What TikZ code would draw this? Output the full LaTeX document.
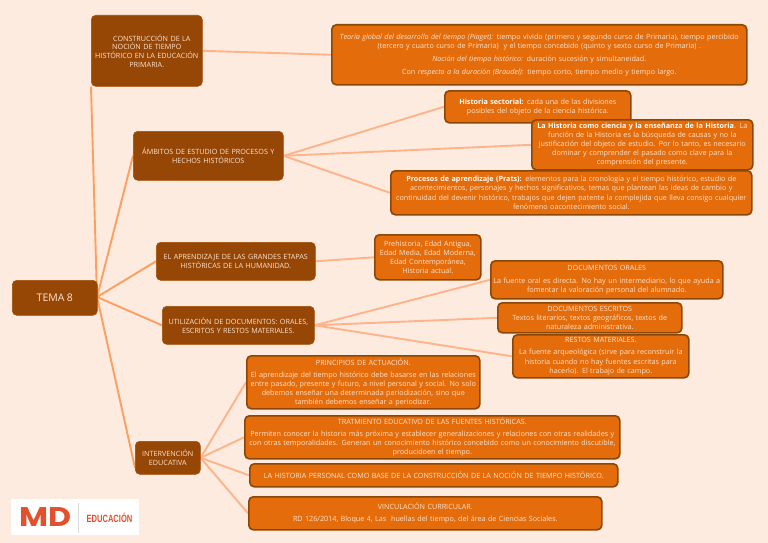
\documentclass[tikz,border=0pt]{standalone}
\usepackage{fontspec}
\setmainfont{Open Sans}
\newfontfamily\logofont{Poppins}
\newfontfamily\logotwo{Liberation Sans}
\usetikzlibrary{backgrounds}
\definecolor{bgc}{HTML}{FDEBDF}
\definecolor{darkb}{HTML}{964605}
\definecolor{orgb}{HTML}{E46C0A}
\definecolor{orgl}{HTML}{8A4708}
\definecolor{txtc}{HTML}{FDE3CF}
\definecolor{linea}{HTML}{FC9F60}
\definecolor{lineb}{HTML}{FDB48A}
\definecolor{mdred}{HTML}{E2512D}
\tikzset{
 x=1pt,y=-1pt,
 boxbase/.style={rounded corners=4.5pt,inner sep=0pt,align=center,anchor=north west,text=txtc,font=\fontsize{7.2}{9.1}\selectfont},
 mainbox/.style={boxbase,fill=darkb,draw=darkb!88!orange,line width=0.6pt},
 subbox/.style={boxbase,fill=orgb,draw=orgl,line width=1.6pt},
 rootline/.style={draw=linea,line width=1.9pt},
 subline/.style={draw=lineb,line width=1.9pt},
}
\newcommand{\bx}[7]{\node[#2,minimum width=#5 pt - #3 pt,minimum height=#6 pt - #4 pt,text width=#5 pt - #3 pt - 4pt] (#1) at (#3,#4) {#7};}
\begin{document}
\begin{tikzpicture}
\useasboundingbox (0,0) rectangle (768,543);
\bx{root}{mainbox}{12}{280}{97}{315}{\fontsize{10.5}{12}\selectfont TEMA 8}
\bx{con}{mainbox}{91}{15}{202}{86}{\hspace*{10pt}CONSTRUCCIÓN DE LA\\[-0.4pt]NOCIÓN DE TIEMPO\\[-0.4pt]HISTÓRICO EN LA EDUCACIÓN\\[-0.4pt]PRIMARIA.\\[17pt]}
\bx{teo}{subbox}{331}{24}{746}{84}{\textit{Teoría global del desarrollo del tiempo (Piaget):} tiempo vivido (primero y segundo curso de Primaria), tiempo percibido\\(tercero y cuarto curso de Primaria)\ \ y el tiempo concebido (quinto y sexto curso de Primaria) .\\[4pt]\textit{Noción del tiempo histórico:} duración sucesión y simultaneidad.\\[4pt]Con \textit{respecto a la duración (Braudel):} tiempo corto, tiempo medio y tiempo largo.}
\bx{amb}{mainbox}{133}{131}{283}{180}{ÁMBITOS DE ESTUDIO DE PROCESOS Y\\HECHOS HISTÓRICOS}
\bx{sec}{subbox}{444}{90}{630}{122}{\textcolor{white}{\textbf{Historia sectorial:}} cada una de las divisiones\\posibles del objeto de la ciencia histórica.}
\bx{pro}{subbox}{390}{170}{751}{214}{\textcolor{white}{\textbf{Procesos de aprendizaje (Prats):}} elementos para la cronología y el tiempo histórico, estudio de\\acontecimientos, personajes y hechos significativos, temas que plantean las ideas de cambio y\\continuidad del devenir histórico, trabajos que dejen patente la complejida que lleva consigo cualquier\\fenómeno oacontecimiento social.}
\bx{lah}{subbox}{531}{119}{752}{169}{\textcolor{white}{\textbf{La Historia como ciencia y la enseñanza de la Historia}}. La\\función de la Historia es la búsqueda de causas y no la\\justificación del objeto de estudio. Por lo tanto, es necesario\\dominar y comprender el pasado como clave para la\\comprensión del presente.}
\bx{apr}{mainbox}{156}{242}{315}{280}{EL APRENDIZAJE DE LAS GRANDES ETAPAS\\HISTÓRICAS DE LA HUMANIDAD.}
\bx{pre}{subbox}{374}{234}{480}{279}{Prehistoria, Edad Antigua,\\Edad Media, Edad Moderna,\\Edad Contemporánea,\\Historia actual.}
\bx{ora}{subbox}{490}{260}{722}{298}{DOCUMENTOS ORALES\\[3pt]La fuente oral es directa. No hay un intermediario, lo que ayuda a\\fomentar la valoración personal del alumnado.}
\bx{esc}{subbox}{497}{302}{681}{332}{DOCUMENTOS ESCRITOS\\Textos literarios, textos geográficos, textos de\\naturaleza administrativa.}
\bx{res}{subbox}{512}{334}{688}{377}{RESTOS MATERIALES.\\[3pt]La fuente arqueológica (sirve para reconstruir la\\historia cuando no hay fuentes escritas para\\hacerlo). El trabajo de campo.}
\bx{uti}{mainbox}{162}{306}{314}{344}{UTILIZACIÓN DE DOCUMENTOS: ORALES,\\ESCRITOS Y RESTOS MATERIALES.}
\bx{pri}{subbox}{246}{355}{479}{408}{PRINCIPIOS DE ACTUACIÓN.\\[3pt]El aprendizaje del tiempo histórico debe basarse en las relaciones\\entre pasado, presente y futuro, a nivel personal y social. No solo\\debemos enseñar una determinada periodización, sino que\\también debemos enseñar a periodizar.}
\bx{tra}{subbox}{244}{415}{619}{458}{TRATMIENTO EDUCATIVO DE LAS FUENTES HISTÓRICAS.\\[3pt]Permiten conocer la historia más próxima y establecer generalizaciones y relaciones con otras realidades y\\con otras temporalidades. Generan un conocimiento histórico concebido como un conocimiento discutible,\\producidoen el tiempo.}
\bx{per}{subbox}{249}{463}{617}{486}{LA HISTORIA PERSONAL COMO BASE DE LA CONSTRUCCIÓN DE LA NOCIÓN DE TIEMPO HISTÓRICO.}
\bx{vin}{subbox}{248}{496}{601}{529}{VINCULACIÓN CURRICULAR.\\[3pt]RD 126/2014, Bloque 4, Las\ \ huellas del tiempo, del área de Ciencias Sociales.}
\bx{int}{mainbox}{135}{441}{200}{474}{INTERVENCIÓN\\EDUCATIVA}
\node[fill=white,anchor=north west,minimum width=128pt,minimum height=36pt,inner sep=0pt] (logo) at (11,499) {};
\node[text=mdred,font=\logofont\fontsize{27}{27}\selectfont\bfseries,anchor=center,inner sep=0pt,xscale=1.17] (md) at (45,517.5) {MD};
\node[text=mdred,font=\logotwo\fontsize{10.5}{10.5}\selectfont\bfseries,anchor=center,inner sep=0pt,xscale=.72] (edu) at (109.5,518) {EDUCACIÓN};
\draw[black!15,line width=0.8pt] (78.5,503) -- (78.5,533);
\begin{scope}[on background layer]
\fill[bgc] (0,0) rectangle (768,543);
\coordinate (hub) at (97,297);
\foreach \t/\a in {con/south west,amb/west,apr/west,uti/west}{\draw[rootline] (hub) -- (\t.\a);}
\draw[rootline] (hub) -- ([yshift=-10pt]int.west);
\draw[subline] (con.east) -- (teo.west);
\foreach \t in {sec,lah,pro}{\draw[subline] (amb.east) -- (\t.west);}
\draw[subline] (apr.east) -- (pre.west);
\foreach \t in {ora,esc,res}{\draw[subline] (uti.east) -- (\t.west);}
\foreach \t in {pri,tra,per,vin}{\draw[subline] (int.east) -- (\t.west);}
\end{scope}
\end{tikzpicture}
\end{document}
